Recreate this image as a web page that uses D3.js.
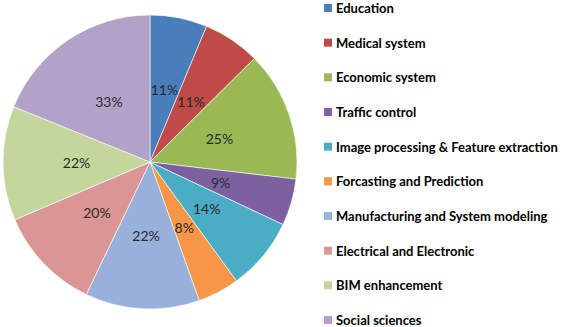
<!DOCTYPE html>
<html><head><meta charset="utf-8">
<script src="https://cdn.jsdelivr.net/npm/d3@7"></script>
<style>html,body{margin:0;padding:0;background:#fff;}svg{display:block;}</style>
</head><body>
<script>
const categories = ["Education","Medical system","Economic system","Traffic control","Image processing & Feature extraction","Forcasting and Prediction","Manufacturing and System modeling","Electrical and Electronic","BIM enhancement","Social sciences"];
const values = [11,11,25,9,14,8,22,20,22,33];
const labels = ["11%","11%","25%","9%","14%","8%","22%","20%","22%","33%"];
const colors = ["#4A7EBB","#BE4B48","#98B954","#7D60A0","#4BACC6","#F79646","#98B0DA","#DA9694","#C3D69B","#B3A2C7"];

const W = 567, H = 327;
const svg = d3.select("body").append("svg").attr("width", W).attr("height", H);
const cx = 150, cy = 162, R = 147;
const pie = d3.pie().sort(null).value(d => d)(values);
const arc = d3.arc().innerRadius(0).outerRadius(R);
const labelArc = d3.arc().innerRadius(R*0.5).outerRadius(R*0.5);
const g = svg.append("g").attr("transform", `translate(${cx},${cy})`);
g.selectAll("path").data(pie).join("path")
  .attr("d", arc).attr("fill", (d,i) => colors[i])
  .attr("stroke", "#ffffff").attr("stroke-width", 0.6);
g.selectAll("text").data(pie).join("text")
  .attr("transform", d => `translate(${labelArc.centroid(d)})`)
  .attr("text-anchor", "middle").attr("dominant-baseline", "central")
  .style("font-family", "Lato, 'Open Sans', sans-serif").style("font-size", "14px")
  .attr("fill", "#2a2a2a")
  .text((d,i) => labels[i]);

const y = d3.scalePoint().domain(categories).range([8, 320]);
const lg = svg.append("g");
const items = lg.selectAll("g").data(categories).join("g")
  .attr("transform", d => `translate(324,${y(d)})`);
items.append("rect").attr("x", 0).attr("y", -4).attr("width", 8).attr("height", 8)
  .attr("fill", (d,i) => colors[i]);
items.append("text").attr("x", 12).attr("y", 0).attr("dominant-baseline", "central")
  .style("font-family", "Lato, sans-serif").style("font-weight", "bold").style("font-size", "13px")
  .attr("fill", "#000").text(d => d);
</script>
</body></html>
